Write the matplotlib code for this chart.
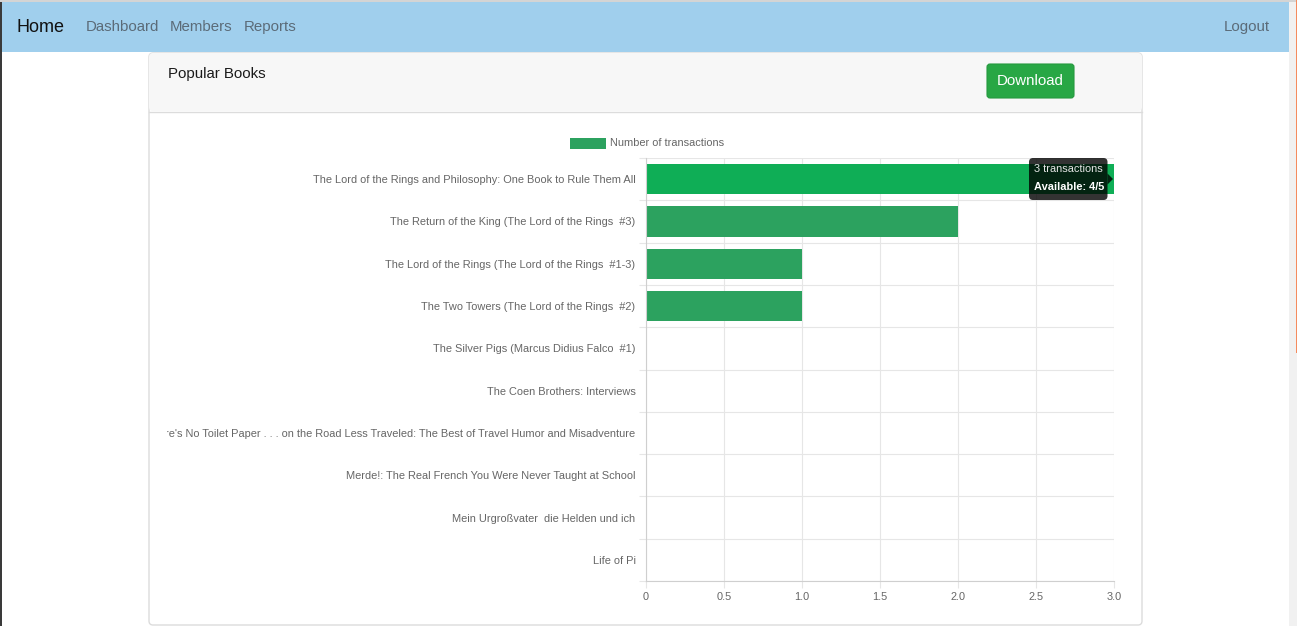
import matplotlib
matplotlib.use("Agg")
import matplotlib.pyplot as plt
from matplotlib.patches import Rectangle, FancyBboxPatch, Polygon
from matplotlib.transforms import Bbox
import numpy as np

plt.rcParams['font.family'] = ['Liberation Sans', 'DejaVu Sans']

W, H = 1297, 626

books = ["The Lord of the Rings and Philosophy: One Book to Rule Them All",
         "The Return of the King (The Lord of the Rings  #3)",
         "The Lord of the Rings (The Lord of the Rings  #1-3)",
         "The Two Towers (The Lord of the Rings  #2)",
         "The Silver Pigs (Marcus Didius Falco  #1)",
         "The Coen Brothers: Interviews",
         "There's No Toilet Paper . . . on the Road Less Traveled: The Best of Travel Humor and Misadventure",
         "Merde!: The Real French You Were Never Taught at School",
         "Mein Urgroßvater  die Helden und ich",
         "Life of Pi"]
transactions = [3, 2, 1, 1, 0, 0, 0, 0, 0, 0]
xticks = [0, 0.5, 1.0, 1.5, 2.0, 2.5, 3.0]
xticklabels = ["0", "0.5", "1.0", "1.5", "2.0", "2.5", "3.0"]
nav_links = ["Dashboard", "Members", "Reports"]

GREEN = "#2ca25f"
HOVER = "#0fae56"

fig = plt.figure(figsize=(W/100, H/100), dpi=100, facecolor="white")

# page chrome, in pixels
bg = fig.add_axes([0, 0, 1, 1], zorder=0)
bg.set_xlim(0, W)
bg.set_ylim(H, 0)
bg.axis("off")
bg.add_patch(Rectangle((0, 0), 2, H, fc="#3a3a3a", ec="none"))
bg.add_patch(Rectangle((0, 0), W, 1.5, fc="#d4d4d4", ec="none"))
bg.add_patch(Rectangle((2, 1.5), 1287, 50.5, fc="#a0cfed", ec="none"))
bg.add_patch(Rectangle((1289, 1.5), 7, H, fc="#f1f1f1", ec="none"))
bg.add_patch(Rectangle((1296, 0), 1, 353, fc="#f58b5e", ec="none"))
bg.add_patch(Rectangle((1296, 353), 1, H, fc="#f1f1f1", ec="none"))

bg.text(16, 28, "Home", fontsize=13, color="#111111", va="center")
for name, x in zip(nav_links, [85.5, 170, 244]):
    bg.text(x, 27, name, fontsize=10.8, color="#5b6b78", va="center")
bg.text(1224, 27, "Logout", fontsize=10.8, color="#5b6b78", va="center")

# card
bg.add_patch(FancyBboxPatch((149, 53), 993, 572, boxstyle="round,pad=0,rounding_size=4",
                            fc="white", ec="#dcdcdc", lw=1))
bg.add_patch(FancyBboxPatch((149, 53), 993, 58, boxstyle="round,pad=0,rounding_size=4",
                            fc="#f7f7f7", ec="none"))
bg.plot([149, 1142], [111.5, 111.5], color="#dcdcdc", lw=1)
bg.text(167.5, 74, "Popular Books", fontsize=10.8, color="#1a1a1a", va="center")
bg.add_patch(FancyBboxPatch((987, 64), 87, 34, boxstyle="round,pad=0,rounding_size=3",
                            fc="#28a745", ec="#25993f", lw=0.8))
bg.text(1030.5, 81, "Download", fontsize=10.8, color="white", va="center", ha="center")

# legend
bg.add_patch(Rectangle((569.5, 137.5), 36, 11, fc=GREEN, ec="none"))
bg.text(610.5, 142.5, "Number of transactions", fontsize=7.9, color="#666666", va="center")

# chart
ax = fig.add_axes([646/W, 1-581/H, 468/W, 423/H], zorder=1)
ax.patch.set_alpha(0)
y = np.arange(len(books)) + 0.5
colors = [HOVER] + [GREEN]*(len(books)-1)
ax.barh(y, transactions, height=0.72, color=colors, zorder=2)
ax.set_xlim(0, 3)
ax.set_ylim(len(books), 0)

ax.set_xticks(xticks)
ax.set_xticklabels(xticklabels, fontsize=7.9, color="#666666")
ax.set_yticks(y)
ax.set_yticklabels(books, fontsize=7.9, color="#666666")
ax.set_yticks(np.arange(len(books)+1), minor=True)
ax.tick_params(axis="y", which="major", length=0, pad=7.5)
ax.tick_params(axis="y", which="minor", length=5, color="#e6e6e6", width=0.8)
ax.tick_params(axis="x", length=5, color="#e6e6e6", width=0.8, pad=3)
ax.grid(True, axis="x", color="#e6e6e6", lw=0.8, zorder=1)
ax.grid(True, axis="y", which="minor", color="#e6e6e6", lw=0.8, zorder=1)
ax.set_axisbelow(True)
for s in ["top", "right"]:
    ax.spines[s].set_visible(False)
for s in ["left", "bottom"]:
    ax.spines[s].set_color("#cfcfcf")
    ax.spines[s].set_linewidth(0.8)

# the canvas cuts the long label off at its left edge
for lab in ax.get_yticklabels():
    lab.set_clip_box(Bbox([[167, 0], [W, H]]))
    lab.set_clip_on(True)

# tooltip
top = fig.add_axes([0, 0, 1, 1], zorder=2)
top.set_xlim(0, W)
top.set_ylim(H, 0)
top.axis("off")
top.add_patch(FancyBboxPatch((1029, 158), 78.5, 42, boxstyle="round,pad=0,rounding_size=4",
                             fc="black", ec="none", alpha=0.8))
top.add_patch(Polygon([[1107.5, 173.5], [1113, 179], [1107.5, 184.5]], fc="black", ec="none", alpha=0.8))
top.text(1034, 169.5, "3 transactions", fontsize=7.9, color="#e6e6e6", va="center")
top.text(1034, 187.5, "Available: 4/5", fontsize=7.9, color="white", va="center", fontweight="bold")

fig.savefig("out.png", dpi=100)
